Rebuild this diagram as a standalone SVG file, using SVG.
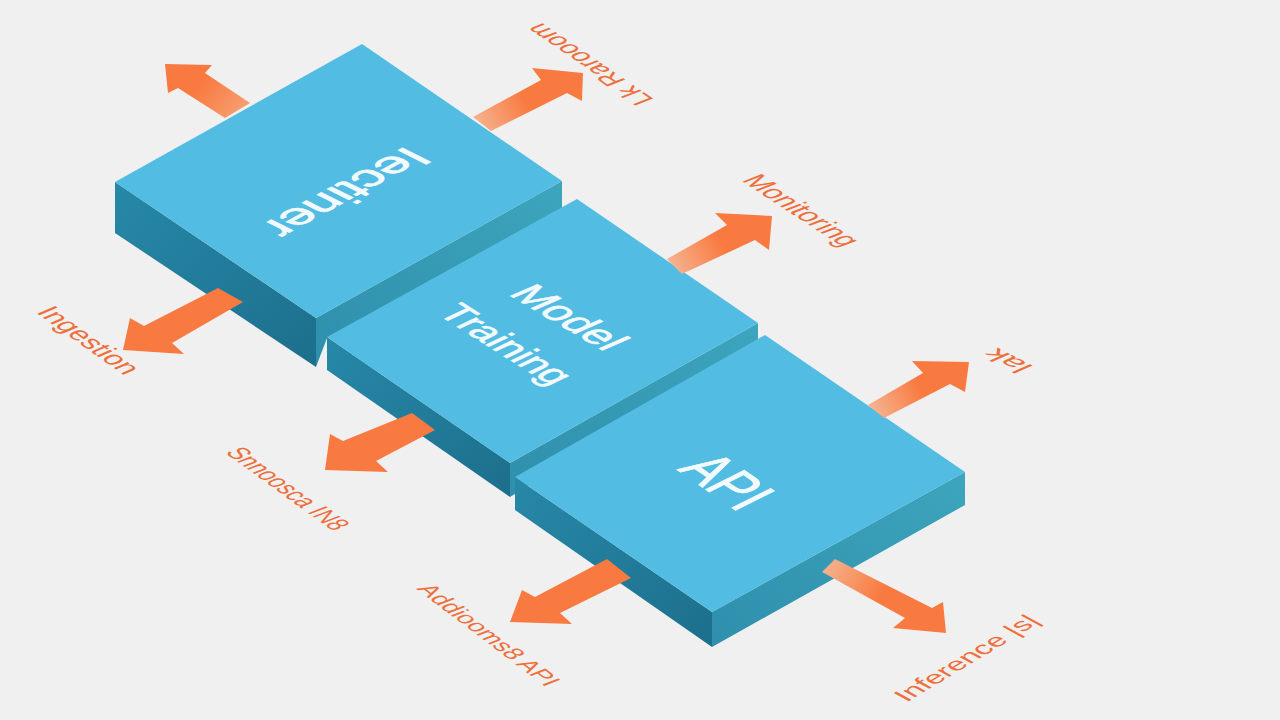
<svg xmlns="http://www.w3.org/2000/svg" width="1280" height="720" viewBox="0 0 1280 720">
<style>
.top{fill:#52bce2}
.lf{fill:url(#lf)}
.rf{fill:url(#rf)}
.m{font-family:"Liberation Sans",Arial,sans-serif;fill:#f2fafd;stroke:#f2fafd;stroke-width:.7px;font-size:34px;text-anchor:middle}
.o{font-family:"Liberation Sans",Arial,sans-serif;fill:#ee6f3c;font-size:20px;text-anchor:middle}
</style>
<defs>
<linearGradient id="lf" x1="0" y1="0" x2="1" y2="1"><stop offset="0" stop-color="#2788a8"/><stop offset="1" stop-color="#1c6f8c"/></linearGradient>
<linearGradient id="rf" x1="0" y1="1" x2="1" y2="0"><stop offset="0" stop-color="#2f8fac"/><stop offset="1" stop-color="#3da5bd"/></linearGradient>
<linearGradient id="g1" gradientUnits="userSpaceOnUse" x1="235" y1="112" x2="200" y2="85"><stop offset="0" stop-color="#f79a6c"/><stop offset="1" stop-color="#f97a40"/></linearGradient>
<linearGradient id="g2" gradientUnits="userSpaceOnUse" x1="480" y1="124" x2="525" y2="100"><stop offset="0" stop-color="#f6b08c"/><stop offset="1" stop-color="#f97a40"/></linearGradient>
<linearGradient id="g3" gradientUnits="userSpaceOnUse" x1="674" y1="266" x2="720" y2="240"><stop offset="0" stop-color="#f6b08c"/><stop offset="1" stop-color="#f97a40"/></linearGradient>
<linearGradient id="g4" gradientUnits="userSpaceOnUse" x1="876" y1="411" x2="920" y2="388"><stop offset="0" stop-color="#f6b08c"/><stop offset="1" stop-color="#f97a40"/></linearGradient>
<linearGradient id="g5" gradientUnits="userSpaceOnUse" x1="828" y1="565" x2="880" y2="596"><stop offset="0" stop-color="#f6b08c"/><stop offset="1" stop-color="#f97a40"/></linearGradient>
</defs>
<rect width="1280" height="720" fill="#f0f0f0"/>
<g id="node-1">
<polygon class="lf" points="115,182 316,318 316,367 115,233"/>
<polygon class="rf" points="316,318 562,181 562,208 327,338 316,367"/>
<polygon class="top" points="362,44 562,181 316,318 115,182"/>
<text class="m" transform="matrix(-1.32,.72,-1.2,-.6,333,186)">Iectiner</text>
</g>
<g id="node-2">
<polygon class="lf" points="327,337 510,463 510,497 327,370"/>
<polygon class="rf" points="510,463 758,323 758,346 510,497"/>
<polygon class="top" points="577,199 758,323 510,463 327,337"/>
<text class="m" transform="matrix(1.05,.62,-1.15,.5,556,323)">Model</text>
<text class="m" transform="matrix(.95,.6,-1.05,.5,494,350)">Training</text>
</g>
<g id="node-3">
<polygon class="lf" points="515,477 712,612 712,647 515,510"/>
<polygon class="rf" points="712,612 965,472 965,505 712,647"/>
<polygon class="top" points="765,335 965,472 712,612 515,477"/>
<text class="m" transform="matrix(.97,.67,-1.4,.7,708,491)" style="font-size:40px">API</text>
</g>
<g id="connectors">
<polygon fill="url(#g1)" points="165,64 212,65 205,73 250,103 225,118 178,88 168,93"/>
<polygon fill="url(#g2)" points="583,73 532,68 541,80 473,117 491,131 567,93 582,101"/>
<polygon fill="url(#g3)" points="772,216 715,213 727,225 667,259 682,274 755,240 769,250"/>
<polygon fill="url(#g4)" points="969,362 912,361 923,373 868,405 884,418 950,384 965,392"/>
<polygon fill="#f97a40" points="123,350 130,318 144,326 218,288 243,302 172,343 184,354"/>
<polygon fill="#f97a40" points="325,470 330,434 343,441 412,413 435,430 376,461 388,472"/>
<polygon fill="#f97a40" points="510,622 522,590 535,597 607,559 631,578 560,613 572,624"/>
<polygon fill="url(#g5)" points="946,633 943,602 932,608 835,559 822,572 905,618 893,628"/>
</g>
<g id="labels">
<text class="o" transform="matrix(1.1,.78,-1.3,.56,80,344)">Ingestion</text>
<text class="o" transform="matrix(1.1,.72,-1.4,.55,792,214)">Monitoring</text>
<text class="o" transform="matrix(.87,.63,-1.3,.5,279,492)">Snnoosca IN8</text>
<text class="o" transform="matrix(.95,.72,-1.15,.45,481,638)">Addiooms8 API</text>
<text class="o" transform="matrix(-1.04,-.71,1.3,-.5,598,61)">Lk Rarooom</text>
<text class="o" transform="matrix(-1.45,-.74,1.25,-.55,1016,357)">lak</text>
<text class="o" transform="matrix(1.23,-.74,1.1,.6,974,662)">Inference  |s|</text>
</g>
</svg>
